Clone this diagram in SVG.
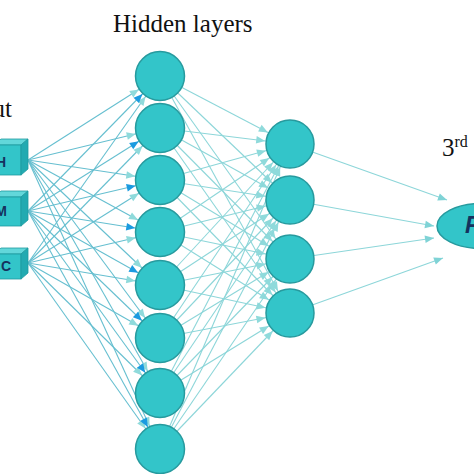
<svg xmlns="http://www.w3.org/2000/svg" width="474" height="474" viewBox="0 0 474 474">
<style>
.title{font-family:"Liberation Serif","Times New Roman",serif;font-size:25px;fill:#111}
.node{fill:#33c5c9;stroke:#279a9e;stroke-width:1.5}
.lbl{font-family:"Liberation Sans",Arial,sans-serif;font-weight:bold;font-size:14px;fill:#15325e}
.in{stroke:#66bfd0;stroke-width:1.1;fill:none}
.hid{stroke:#8dd6d9;stroke-width:1.1;fill:none}
.boxf{fill:#33c5c9;stroke:#1f9aa0;stroke-width:0.8}
.boxt{fill:#62d7da;stroke:#1f9aa0;stroke-width:0.8}
.boxr{fill:#22aab1;stroke:#1f9aa0;stroke-width:0.8}
</style>
<defs>
<marker id="mb" markerUnits="userSpaceOnUse" orient="auto" refX="34" refY="0" markerWidth="40" markerHeight="10" overflow="visible" style="overflow:visible"><path d="M0,-3.8 L9,0 L0,3.8 z" fill="#1b9be0"/></marker>
<marker id="ml" markerUnits="userSpaceOnUse" orient="auto" refX="34" refY="0" markerWidth="40" markerHeight="10" overflow="visible" style="overflow:visible"><path d="M0,-3.8 L9,0 L0,3.8 z" fill="#8fdadb"/></marker>
<marker id="mo" markerUnits="userSpaceOnUse" orient="auto" refX="9" refY="0" markerWidth="10" markerHeight="10" overflow="visible" style="overflow:visible"><path d="M0,-3.8 L9,0 L0,3.8 z" fill="#7fd3d6"/></marker>
</defs>
<text class="title" x="113" y="32">Hidden layers</text>
<text class="title" x="12" y="117" text-anchor="end">Input</text>
<text class="title" x="442" y="156">3<tspan font-size="16" dy="-9">rd</tspan></text>
<g id="connectors">
<g class="in" marker-end="url(#ml)">
<path d="M28,160L160,76"/><path d="M28,160L160,128"/><path d="M28,160L160,180"/><path d="M28,160L160,232"/><path d="M28,160L160,285"/><path d="M28,160L160,338"/><path d="M28,160L160,393"/><path d="M28,160L160,449"/>
<path d="M28,263L160,76"/><path d="M28,263L160,128"/><path d="M28,263L160,180"/><path d="M28,263L160,232"/><path d="M28,263L160,285"/><path d="M28,263L160,338"/><path d="M28,263L160,393"/><path d="M28,263L160,449"/>
</g>
<g class="in" marker-end="url(#mb)">
<path d="M28,211L160,76"/><path d="M28,211L160,128"/><path d="M28,211L160,180"/><path d="M28,211L160,232"/><path d="M28,211L160,285"/><path d="M28,211L160,338"/><path d="M28,211L160,393"/><path d="M28,211L160,449"/>
</g>
<g class="hid" marker-end="url(#ml)">
<path d="M160,76L290,144"/><path d="M160,76L290,200"/><path d="M160,76L290,259"/><path d="M160,76L290,313"/>
<path d="M160,128L290,144"/><path d="M160,128L290,200"/><path d="M160,128L290,259"/><path d="M160,128L290,313"/>
<path d="M160,180L290,144"/><path d="M160,180L290,200"/><path d="M160,180L290,259"/><path d="M160,180L290,313"/>
<path d="M160,232L290,144"/><path d="M160,232L290,200"/><path d="M160,232L290,259"/><path d="M160,232L290,313"/>
<path d="M160,285L290,144"/><path d="M160,285L290,200"/><path d="M160,285L290,259"/><path d="M160,285L290,313"/>
<path d="M160,338L290,144"/><path d="M160,338L290,200"/><path d="M160,338L290,259"/><path d="M160,338L290,313"/>
<path d="M160,393L290,144"/><path d="M160,393L290,200"/><path d="M160,393L290,259"/><path d="M160,393L290,313"/>
<path d="M160,449L290,144"/><path d="M160,449L290,200"/><path d="M160,449L290,259"/><path d="M160,449L290,313"/>
</g>
<g class="hid" marker-end="url(#mo)">
<path d="M290,144L447,200"/><path d="M290,200L434,226"/><path d="M290,259L434,238"/><path d="M290,313L443,258"/>
</g>
</g>
<g id="in-H"><polygon class="boxt" points="-6,145 1,139 28,139 21,145"/><rect class="boxf" x="-6" y="145" width="27" height="30"/><polygon class="boxr" points="21,145 28,139 28,169 21,175"/><text class="lbl" x="1" y="167" text-anchor="middle">H</text></g>
<g id="in-M"><polygon class="boxt" points="-6,197 1,191 28,191 21,197"/><rect class="boxf" x="-6" y="197" width="27" height="29"/><polygon class="boxr" points="21,197 28,191 28,220 21,226"/><text class="lbl" x="1" y="216" text-anchor="middle">M</text></g>
<g id="in-C"><polygon class="boxt" points="-6,254 1,248 28,248 21,254"/><rect class="boxf" x="-6" y="254" width="27" height="25"/><polygon class="boxr" points="21,254 28,248 28,273 21,279"/><text class="lbl" x="6" y="271" text-anchor="middle">C</text></g>
<g id="h1-1"><circle class="node" cx="160" cy="76" r="24.5"/></g>
<g id="h1-2"><circle class="node" cx="160" cy="128" r="24.5"/></g>
<g id="h1-3"><circle class="node" cx="160" cy="180" r="24.5"/></g>
<g id="h1-4"><circle class="node" cx="160" cy="232" r="24.5"/></g>
<g id="h1-5"><circle class="node" cx="160" cy="285" r="24.5"/></g>
<g id="h1-6"><circle class="node" cx="160" cy="338" r="24.5"/></g>
<g id="h1-7"><circle class="node" cx="160" cy="393" r="24.5"/></g>
<g id="h1-8"><circle class="node" cx="160" cy="449" r="24.5"/></g>
<g id="h2-1"><circle class="node" cx="290" cy="144" r="24"/></g>
<g id="h2-2"><circle class="node" cx="290" cy="200" r="24"/></g>
<g id="h2-3"><circle class="node" cx="290" cy="259" r="24"/></g>
<g id="h2-4"><circle class="node" cx="290" cy="313" r="24"/></g>
<g id="out"><ellipse class="node" cx="481" cy="226" rx="44" ry="22.5"/><text x="465" y="233" font-family="Liberation Sans, Arial, sans-serif" font-weight="bold" font-style="italic" font-size="23" fill="#15325e">F</text></g>
</svg>
